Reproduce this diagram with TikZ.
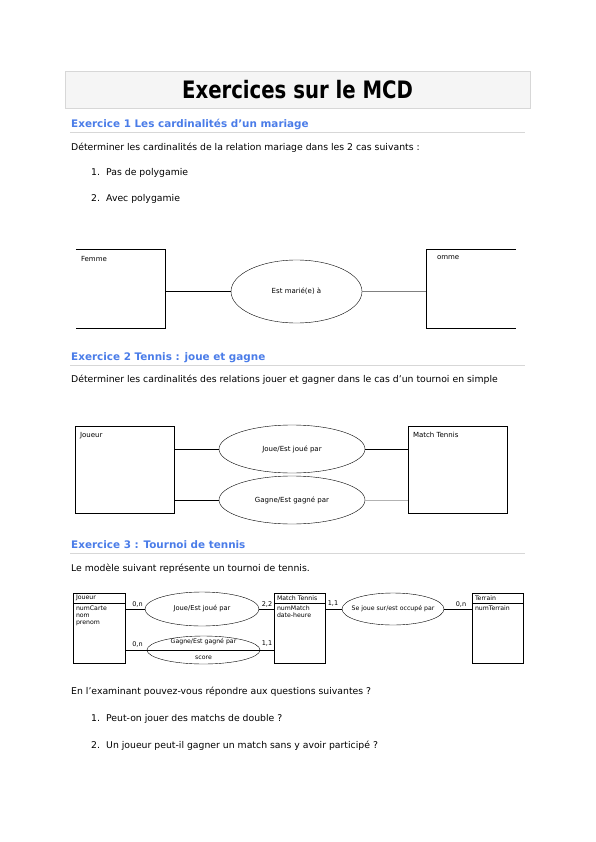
\documentclass[tikz,border=0pt]{standalone}
\usepackage{fontspec}
\setmainfont{DejaVu Sans}
\newfontfamily\titlefont[FakeStretch=0.82]{DejaVu Sans}
\usetikzlibrary{positioning, shapes.geometric}
\definecolor{headblue}{RGB}{74,124,232}
\definecolor{rulegray}{RGB}{215,215,215}

\begin{document}
\begin{tikzpicture}[x=1pt, y=-1pt,
    txt/.style={anchor=base west, inner sep=0pt, font=\fontsize{9.3}{11}\selectfont},
    head/.style={anchor=base west, inner sep=0pt, text=headblue, font=\fontsize{10.4}{12}\selectfont\bfseries},
    hrule/.style={draw=rulegray, line width=0.8pt},
    ebox/.style={minimum width=#1, inner sep=0pt},
    elbl/.style={anchor=north west, inner sep=0pt, font=\fontsize{7}{8}\selectfont},
    assoc/.style={draw, ellipse, inner sep=0pt, font=\fontsize{7}{8}\selectfont},
    ent/.style={draw, minimum width=51pt, minimum height=70pt, inner sep=0pt},
    small/.style={inner sep=0pt, font=\fontsize{6.2}{7}\selectfont},
    card/.style={inner sep=0pt, font=\fontsize{6.5}{7}\selectfont}
]
\useasboundingbox (0,0) rectangle (595,842);

% title
\node[draw=rulegray, fill=gray!8, minimum width=465pt, minimum height=37pt, line width=0.8pt,
      font=\titlefont\fontsize{24}{28}\selectfont\bfseries] (title) at (297.5,89.5) {Exercices sur le MCD};

% exercice 1
\node[head] (h1) at (71,127.5) {Exercice 1 Les cardinalités d'un mariage};
\draw[hrule] (70,132.5) -- (525,132.5);
\node[txt] (t1) at (71,151) {Déterminer les cardinalités de la relation mariage dans les 2 cas suivants :};
\node[txt] (n11) at (91,176) {1.};
\node[txt] (i11) at (106,176) {Pas de polygamie};
\node[txt] (n12) at (91,202) {2.};
\node[txt] (i12) at (106,202) {Avec polygamie};

\node[ebox=89pt, minimum height=79pt] (femme) at (120.5,288.5) {};
\draw (femme.north west) -- (femme.north east) -- (femme.south east) -- (femme.south west);
\node[elbl] (femmelbl) at ([xshift=5pt,yshift=-7pt]femme.north west) {Femme};
\node[ebox=90pt, minimum height=79pt] (homme) at (471,288.5) {};
\draw (homme.north east) -- (homme.north west) -- (homme.south west) -- (homme.south east);
\node[elbl] (hommelbl) at ([xshift=11pt,yshift=-7pt]homme.north west) {omme};
\node[assoc, minimum width=131pt, minimum height=63pt] (marie) at (296.5,291.5) {Est marié(e) à};
\draw (femme.east |- marie.west) -- (marie.west);
\draw[gray, line width=1.4pt] (marie.east) -- (homme.west |- marie.east);

% exercice 2
\node[head] (h2) at (71,360.5) {Exercice 2 Tennis : joue et gagne};
\draw[hrule] (70,365.5) -- (525,365.5);
\node[txt] (t2) at (71,382) {Déterminer les cardinalités des relations jouer et gagner dans le cas d'un tournoi en simple};

\node[draw, minimum width=99pt, minimum height=87pt, inner sep=0pt] (joueur2) at (124.5,469.5) {};
\node[elbl] (joueur2lbl) at ([xshift=5pt,yshift=-6pt]joueur2.north west) {Joueur};
\node[draw, minimum width=99pt, minimum height=87pt, inner sep=0pt] (match2) at (457.5,469.5) {};
\node[elbl] (match2lbl) at ([xshift=5pt,yshift=-6pt]match2.north west) {Match Tennis};
\node[assoc, minimum width=146pt, minimum height=48pt] (joue2) at (292,449) {Joue/Est joué par};
\node[assoc, minimum width=146pt, minimum height=48pt] (gagne2) at (292,500) {Gagne/Est gagné par};
\draw (joueur2.east |- joue2.west) -- (joue2.west);
\draw (joue2.east) -- (match2.west |- joue2.east);
\draw (joueur2.east |- gagne2.west) -- (gagne2.west);
\draw[gray!60] (gagne2.east) -- (match2.west |- gagne2.east);

% exercice 3
\node[head] (h3) at (71,548.5) {Exercice 3 : Tournoi de tennis};
\draw[hrule] (70,553.5) -- (525,553.5);
\node[txt] (t3) at (71,571) {Le modèle suivant représente un tournoi de tennis.};

\node[ent, minimum width=52pt] (joueur3) at (99,628) {};
\node[ent] (match3) at (299.5,628) {};
\node[ent] (terrain3) at (497.5,628) {};
\foreach \e/\t/\a in {joueur3/Joueur/{numCarte\\nom\\prenom}, match3/Match Tennis/{numMatch\\date-heure}, terrain3/Terrain/numTerrain} {
  \draw ([yshift=-10pt]\e.north west) -- ([yshift=-10pt]\e.north east);
  \node[small, anchor=west] (\e t) at ([xshift=3pt,yshift=-5pt]\e.north west) {\t};
  \node[small, anchor=north west, align=left] (\e a) at ([xshift=3pt,yshift=-13pt]\e.north west) {\a};
}

\node[assoc, minimum width=114pt, minimum height=34pt, font=\fontsize{6.7}{7}\selectfont] (joue3) at (202,609) {Joue/Est joué par};
\node[draw, ellipse, minimum width=113pt, minimum height=28pt, inner sep=0pt] (gagne3) at (203.5,650) {};
\node[small] (gagne3n) at ([yshift=8pt]gagne3.center) {Gagne/Est gagné par};
\node[small] (gagne3s) at ([yshift=-8pt]gagne3.center) {score};
\node[draw, ellipse, minimum width=102pt, minimum height=32pt, inner sep=0pt] (sejoue3) at (393,609) {};
\node[small] (sejoue3t) at (sejoue3.center) {Se joue sur/est occupé par};

\draw (joueur3.east |- joue3.west) -- (joue3.west);
\draw (joue3.east) -- (match3.west |- joue3.east);
\draw (joueur3.east |- gagne3.center) -- (match3.west |- gagne3.center);
\draw (match3.east |- sejoue3.west) -- (sejoue3.west);
\draw (sejoue3.east) -- (terrain3.west |- sejoue3.east);

\node[card] (c1) at (137.5,604) {0,n};
\node[card] (c2) at (267,604) {2,2};
\node[card] (c3) at (137.5,644) {0,n};
\node[card] (c4) at (267,644) {1,1};
\node[card] (c5) at (333,604) {1,1};
\node[card] (c6) at (461,604) {0,n};

% questions
\node[txt] (t4) at (71,694) {En l'examinant pouvez-vous répondre aux questions suivantes ?};
\node[txt] (n41) at (91,721) {1.};
\node[txt] (i41) at (106,721) {Peut-on jouer des matchs de double ?};
\node[txt] (n42) at (91,748) {2.};
\node[txt] (i42) at (106,748) {Un joueur peut-il gagner un match sans y avoir participé ?};
\end{tikzpicture}
\end{document}
